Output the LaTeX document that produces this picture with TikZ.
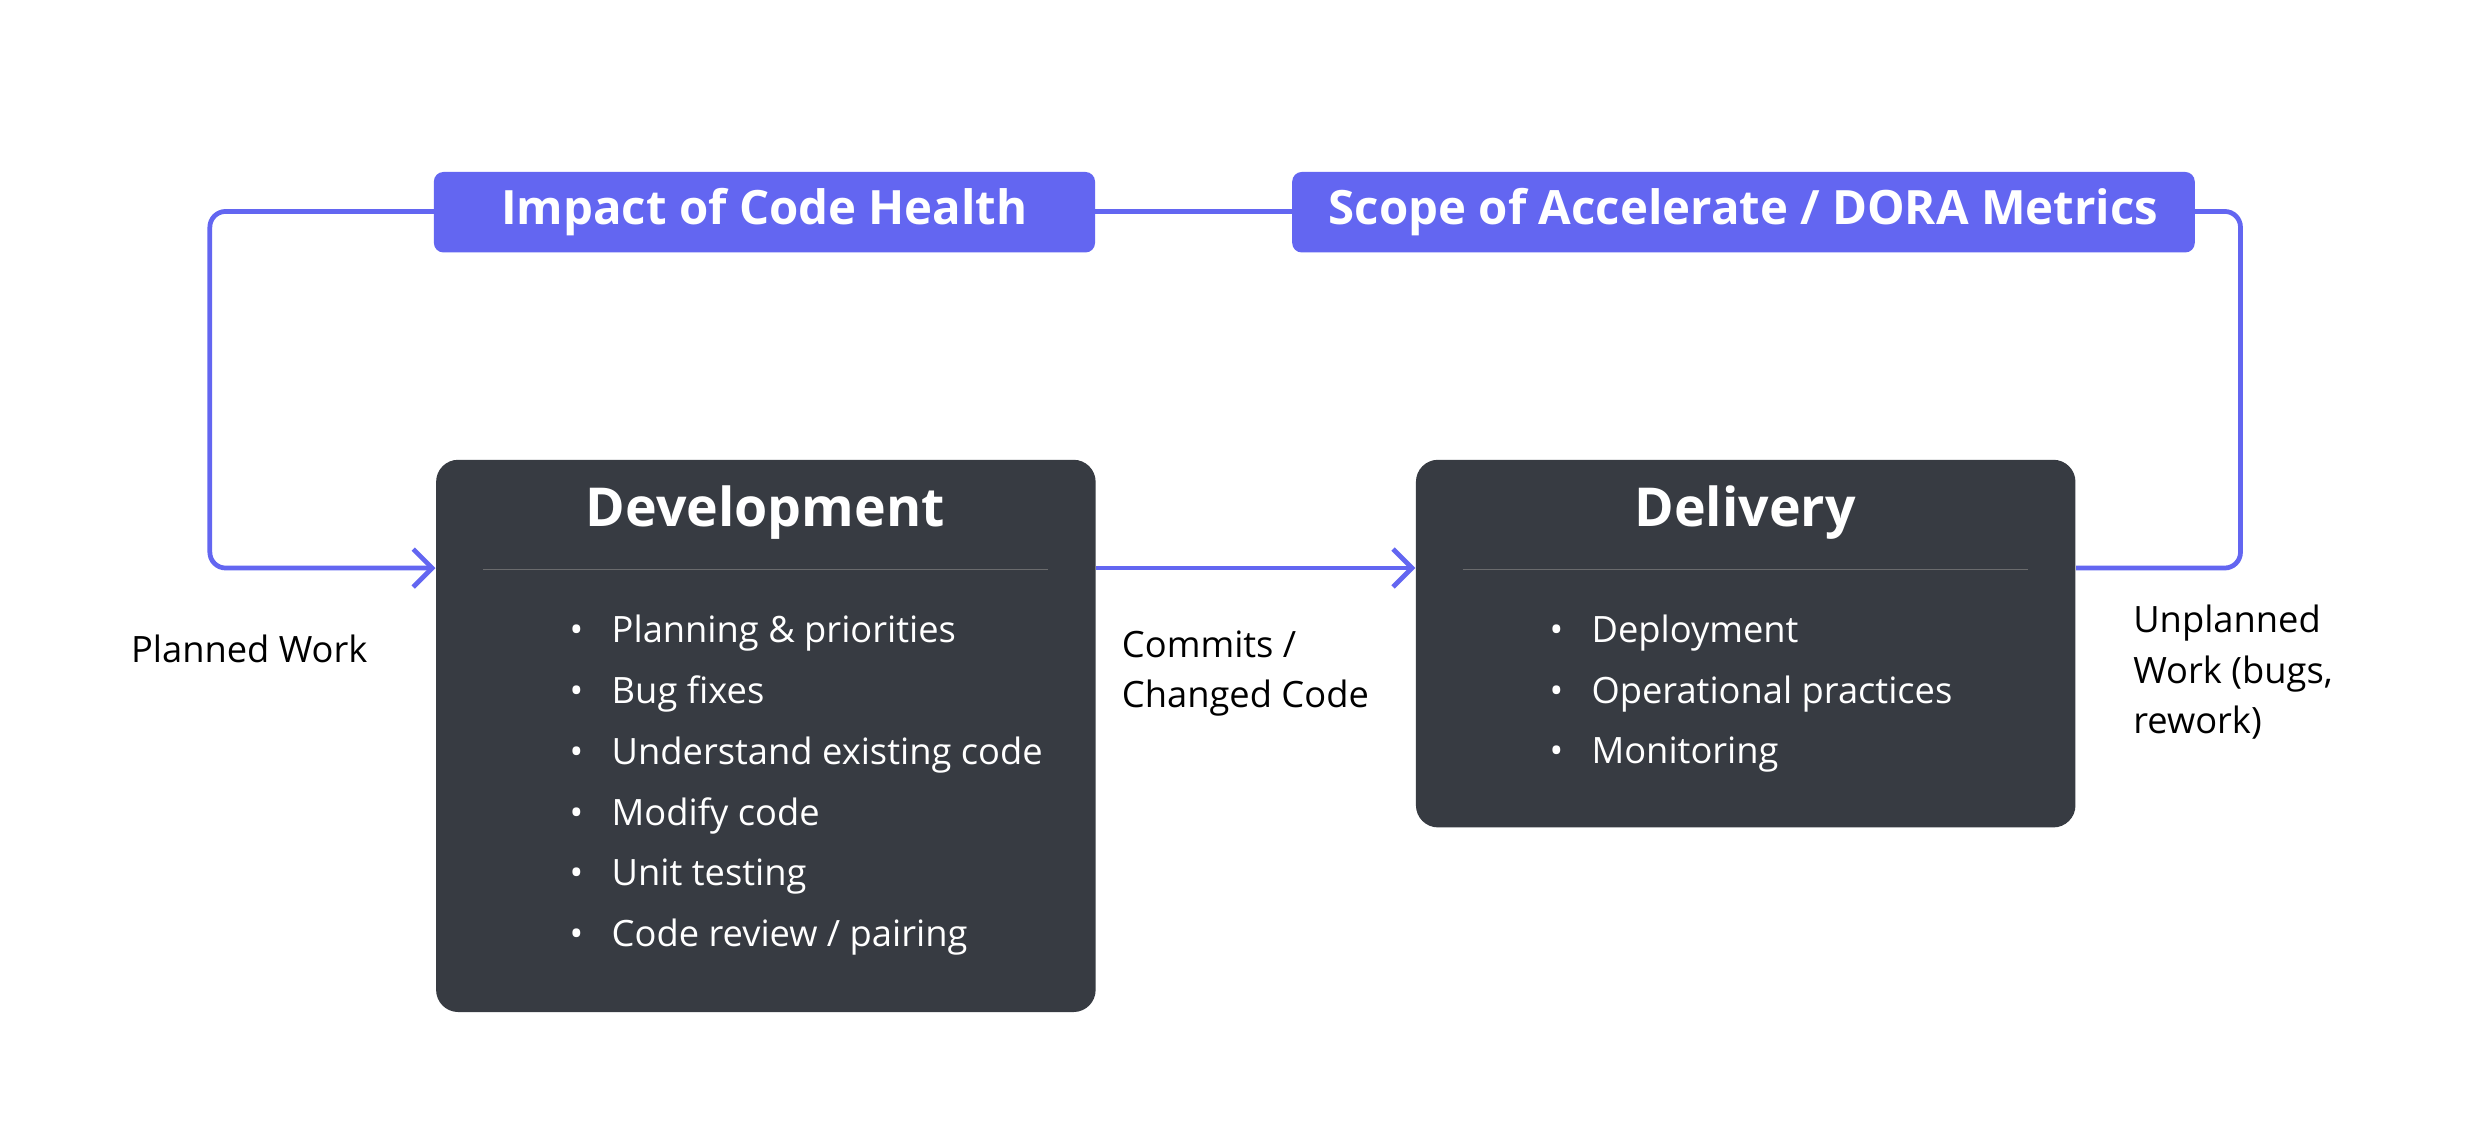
\documentclass[tikz,border=0pt]{standalone}
\usepackage{fontspec}
\setmainfont{Open Sans}
\usetikzlibrary{arrows.meta}
\definecolor{ind}{HTML}{6366F1}
\definecolor{dark}{HTML}{373B42}
\begin{document}
\begin{tikzpicture}[x=0.5pt,y=-0.5pt,
 lab/.style={fill=ind,rounded corners=3pt,text=white,font=\fontsize{15}{18}\selectfont\bfseries,inner sep=0pt},
 box/.style={fill=dark,rounded corners=7pt,inner sep=0pt},
 ttl/.style={text=white,font=\fontsize{17}{20}\selectfont\bfseries},
 itm/.style={text=white,font=\fontsize{11.5}{14}\selectfont,anchor=west},
 side/.style={font=\fontsize{11.5}{16}\selectfont,anchor=west,align=left},
 flow/.style={ind,line width=1.5pt,rounded corners=5pt},
 arr/.style={-{Straight Barb[length=6pt,width=12pt,line width=1.5pt]}}]
\useasboundingbox (0,0) rectangle (1568,724);
\fill[white] (0,0) rectangle (1568,724);
% loop
\coordinate (r1) at (1420,360);
\coordinate (r2) at (1420,134);
\coordinate (l1) at (133,134);
\coordinate (l2) at (133,360);
\node[box,minimum width=418pt*0.5,minimum height=350pt*0.5,anchor=north west] (dev) at (276,291) {};
\node[box,minimum width=418pt*0.5,minimum height=233pt*0.5,anchor=north west] (del) at (897,291) {};
\draw[flow,arr] (del.east|-r1) -- (r1) -- (r2) -- (l1) -- (l2) -- (dev.west|-l2);
\draw[flow,arr] (dev.east|-r1) -- (del.west|-r1);
\node[lab,minimum width=209.5pt,minimum height=25.5pt] (imp) at (484.5,134.5) {Impact of Code Health};
\node[lab,minimum width=286pt,minimum height=25.5pt] (sco) at (1105,134.5) {Scope of Accelerate / DORA Metrics};
% dev
\node[ttl] (devt) at (485,325) {Development};
\draw[gray!70!dark,line width=0.5pt] (306,361) -- (664,361);
\foreach \t [count=\i] in {Planning \& priorities,Bug fixes,Understand existing code,Modify code,Unit testing,Code review / pairing}{
 \node[itm] (d\i) at (354,363+38.5*\i) {\textbullet\hspace{9pt}\t};}
\node[ttl] (delt) at (1106,325) {Delivery};
\draw[gray!70!dark,line width=0.5pt] (927,361) -- (1285,361);
\foreach \t [count=\i] in {Deployment,Operational practices,Monitoring}{
 \node[itm] (e\i) at (975,363+38.5*\i) {\textbullet\hspace{9pt}\t};}
\node[side] (pw) at (76,411) {Planned Work};
\node[side] (cm) at (704,427) {Commits /\\Changed Code};
\node[side] (uw) at (1345,426) {Unplanned\\Work (bugs,\\rework)};
\end{tikzpicture}
\end{document}
